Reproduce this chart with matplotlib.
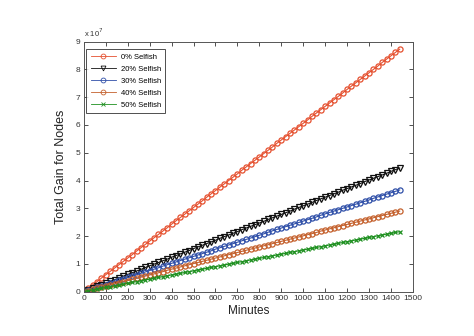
import matplotlib
matplotlib.use("Agg")
import matplotlib.pyplot as plt

plt.rcParams["font.family"] = ["Liberation Sans", "DejaVu Sans"]

minutes = list(range(0, 1441, 20))

gain_0 = [0, 0.12, 0.24, 0.36, 0.49, 0.61, 0.73, 0.85, 0.97, 1.09, 1.21, 1.33, 1.46, 1.58, 1.70, 1.82,
          1.94, 2.06, 2.18, 2.30, 2.43, 2.55, 2.67, 2.79, 2.91, 3.03, 3.15, 3.27, 3.40, 3.52, 3.64, 3.76,
          3.88, 4.00, 4.12, 4.24, 4.37, 4.49, 4.61, 4.73, 4.85, 4.97, 5.09, 5.21, 5.34, 5.46, 5.58, 5.70,
          5.82, 5.94, 6.06, 6.18, 6.31, 6.43, 6.55, 6.67, 6.79, 6.91, 7.03, 7.15, 7.28, 7.40, 7.52, 7.64,
          7.76, 7.88, 8.00, 8.12, 8.25, 8.37, 8.49, 8.61, 8.73]
gain_20 = [0, 0.06, 0.12, 0.19, 0.25, 0.31, 0.37, 0.43, 0.49, 0.56, 0.62, 0.68, 0.74, 0.80, 0.87, 0.93,
           0.99, 1.05, 1.11, 1.17, 1.24, 1.30, 1.36, 1.42, 1.48, 1.55, 1.61, 1.67, 1.73, 1.79, 1.85, 1.92,
           1.98, 2.04, 2.10, 2.16, 2.23, 2.29, 2.35, 2.41, 2.47, 2.53, 2.60, 2.66, 2.72, 2.78, 2.84, 2.90,
           2.97, 3.03, 3.09, 3.15, 3.21, 3.28, 3.34, 3.40, 3.46, 3.52, 3.58, 3.65, 3.71, 3.77, 3.83, 3.89,
           3.96, 4.02, 4.08, 4.14, 4.20, 4.26, 4.33, 4.39, 4.45]
gain_30 = [0, 0.05, 0.10, 0.15, 0.20, 0.25, 0.31, 0.36, 0.41, 0.46, 0.51, 0.56, 0.61, 0.66, 0.71, 0.76,
           0.81, 0.86, 0.92, 0.97, 1.02, 1.07, 1.12, 1.17, 1.22, 1.27, 1.32, 1.37, 1.42, 1.47, 1.53, 1.58,
           1.63, 1.68, 1.73, 1.78, 1.83, 1.88, 1.93, 1.98, 2.03, 2.08, 2.14, 2.19, 2.24, 2.29, 2.34, 2.39,
           2.44, 2.49, 2.54, 2.59, 2.64, 2.69, 2.75, 2.80, 2.85, 2.90, 2.95, 3.00, 3.05, 3.10, 3.15, 3.20,
           3.25, 3.30, 3.36, 3.41, 3.46, 3.51, 3.56, 3.61, 3.66]
gain_40 = [0, 0.04, 0.08, 0.12, 0.16, 0.20, 0.24, 0.28, 0.32, 0.36, 0.40, 0.44, 0.48, 0.52, 0.56, 0.60,
           0.64, 0.68, 0.72, 0.77, 0.81, 0.85, 0.89, 0.93, 0.97, 1.01, 1.05, 1.09, 1.13, 1.17, 1.21, 1.25,
           1.29, 1.33, 1.37, 1.41, 1.45, 1.49, 1.53, 1.57, 1.61, 1.65, 1.69, 1.73, 1.77, 1.81, 1.85, 1.89,
           1.93, 1.97, 2.01, 2.05, 2.09, 2.13, 2.18, 2.22, 2.26, 2.30, 2.34, 2.38, 2.42, 2.46, 2.50, 2.54,
           2.58, 2.62, 2.66, 2.70, 2.74, 2.78, 2.82, 2.86, 2.90]
gain_50 = [0, 0.03, 0.06, 0.09, 0.12, 0.15, 0.18, 0.21, 0.24, 0.27, 0.30, 0.33, 0.36, 0.39, 0.42, 0.45,
           0.48, 0.51, 0.54, 0.57, 0.60, 0.63, 0.66, 0.69, 0.72, 0.75, 0.78, 0.81, 0.84, 0.87, 0.90, 0.93,
           0.96, 0.99, 1.02, 1.05, 1.08, 1.11, 1.14, 1.17, 1.20, 1.23, 1.26, 1.29, 1.32, 1.35, 1.38, 1.41,
           1.44, 1.47, 1.50, 1.53, 1.56, 1.59, 1.62, 1.65, 1.68, 1.71, 1.74, 1.77, 1.80, 1.83, 1.86, 1.89,
           1.92, 1.95, 1.98, 2.01, 2.04, 2.07, 2.10, 2.13, 2.16]

labels = ["0% Selfish", "20% Selfish", "30% Selfish", "40% Selfish", "50% Selfish"]
xticks = list(range(0, 1501, 100))
yticks = list(range(0, 10))

series = [gain_0, gain_20, gain_30, gain_40, gain_50]
colors = ["#e5502f", "#111111", "#2f4fa8", "#c4602c", "#1e9020"]
markers = ["o", "v", "o", "o", "x"]
msizes = [3.7, 3.7, 3.7, 3.7, 2.4]

fig = plt.figure(figsize=(4.74, 3.36), dpi=100)
ax = fig.add_axes([0.177, 0.132, 0.694, 0.744])

for y, c, m, ms, lab in zip(series, colors, markers, msizes, labels):
    ax.plot(minutes, y, color=c, marker=m, markersize=ms, markerfacecolor="none",
            markeredgewidth=0.9, linewidth=0.8, label=lab)

ax.set_xlim(0, 1500)
ax.set_ylim(0, 9)
ax.set_xticks(xticks)
ax.set_yticks(yticks)
ax.tick_params(direction="in", top=True, right=True, labelsize=6, length=3,
               width=0.6, colors="#333333", pad=2.5)
for s in ax.spines.values():
    s.set_color("#555555")
    s.set_linewidth(0.7)

ax.set_xlabel("Minutes", fontsize=8.5, labelpad=2, color="#222222")
ax.set_ylabel("Total Gain for Nodes", fontsize=9, labelpad=6, color="#222222")
ax.text(0.0, 1.012, r"x 10$^7$", transform=ax.transAxes, fontsize=5.5, ha="left", va="bottom",
        color="#333333")

leg = ax.legend(loc="upper left", fontsize=5.5, frameon=True, fancybox=False, edgecolor="#222222",
                borderpad=0.6, labelspacing=0.6, handlelength=3.3, handletextpad=0.6,
                bbox_to_anchor=(0.0, 0.98), borderaxespad=0.3)
leg.get_frame().set_linewidth(0.7)
for h in leg.get_lines():
    h.set_markeredgewidth(0.6)
    h.set_linewidth(0.6)
    h.set_markersize(3.5)

fig.savefig("out.png", dpi=100)
